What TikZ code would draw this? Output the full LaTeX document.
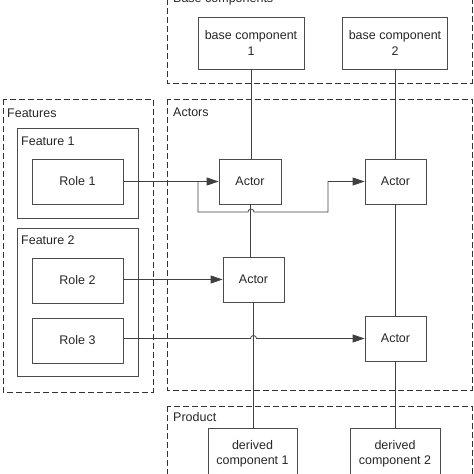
\documentclass[tikz,border=0pt]{standalone}
\usepackage{fontspec}
\setmainfont{Liberation Sans}
\usetikzlibrary{arrows.meta}
\begin{document}
\begin{tikzpicture}[x=1pt,y=-1pt,
  every node/.style={font=\fontsize{12.5pt}{15.5pt}\selectfont, text=black!85},
  group/.style={draw=black!80, dashed, dash pattern=on 6pt off 3pt, line width=0.8pt},
  frame/.style={draw=black!70, line width=0.8pt},
  box/.style={draw=black!70, line width=0.8pt, rectangle, inner sep=0pt, align=center},
  lbl/.style={anchor=west, inner sep=0pt},
  conn/.style={draw=black!75, line width=0.8pt},
  arr/.style={conn, -{Triangle[length=12pt,width=8pt]}}
]
\useasboundingbox (0,0) rectangle (474,474);
% groups
\draw[group] (167,-10) rectangle (472,83);
\node[lbl] (tbase) at (173,-1) {Base components};
\draw[group] (167,99) rectangle (472,390);
\node[lbl] (tact) at (173,112) {Actors};
\draw[group] (167,406) rectangle (472,490);
\node[lbl] (tprod) at (173,417) {Product};
\draw[group] (3,99) rectangle (153,392);
\node[lbl] (tfeat) at (7,113) {Features};
% features
\draw[frame] (17,128) rectangle (138,218);
\node[lbl] (tf1) at (21,141) {Feature 1};
\draw[frame] (17,228) rectangle (138,376);
\node[lbl] (tf2) at (21,240) {Feature 2};
% nodes
\node[box, minimum width=106pt, minimum height=52pt] (bc1) at (251,43) {base component\\1};
\node[box, minimum width=105pt, minimum height=52pt] (bc2) at (395,43) {base component\\2};
\node[box, minimum width=62pt, minimum height=45pt] (a1) at (250,181.5) {Actor};
\node[box, minimum width=61pt, minimum height=45pt] (a2) at (395.5,181.5) {Actor};
\node[box, minimum width=61pt, minimum height=45pt] (a3) at (253.5,279.5) {Actor};
\node[box, minimum width=61pt, minimum height=45pt] (a4) at (395.5,338.5) {Actor};
\node[box, minimum width=91pt, minimum height=45pt] (r1) at (77.5,181.5) {Role 1};
\node[box, minimum width=91pt, minimum height=45pt] (r2) at (77.5,280.5) {Role 2};
\node[box, minimum width=91pt, minimum height=45pt] (r3) at (77.5,340.5) {Role 3};
\node[box, minimum width=89pt, minimum height=52pt] (d1) at (252.5,454) {derived\\component 1};
\node[box, minimum width=90pt, minimum height=52pt] (d2) at (395,454) {derived\\component 2};
% vertical connectors
\draw[conn] (bc1.south) -- (bc1.south |- a1.north);
\draw[conn] (a1.south) -- (a1.south |- a3.north);
\draw[conn] (a3.south) -- (a3.south |- d1.north);
\draw[conn] (bc2.south) -- (bc2.south |- a2.north);
\draw[conn] (a2.south) -- (a2.south |- a4.north);
\draw[conn] (a4.south) -- (a4.south |- d2.north);
% horizontal connectors
\draw[arr] (r1.east |- a1.west) -- (a1.west);
\coordinate (br) at (198,181.5);
\coordinate (bl) at (198,212);
\coordinate (bh) at (248,212);
\coordinate (bu) at (328,212);
\coordinate (bt) at (328,181.5);
\draw[arr] (br) -- (bl) -- (bh) arc (180:360:3) -- (bu) -- (bt) -- (a2.west);
\draw[arr] (r2.east |- a3.west) -- (a3.west);
\coordinate (hop) at (250.5,338.5);
\draw[arr] (r3.east |- a4.west) -- (hop) arc (180:360:3) -- (a4.west);
\end{tikzpicture}
\end{document}
